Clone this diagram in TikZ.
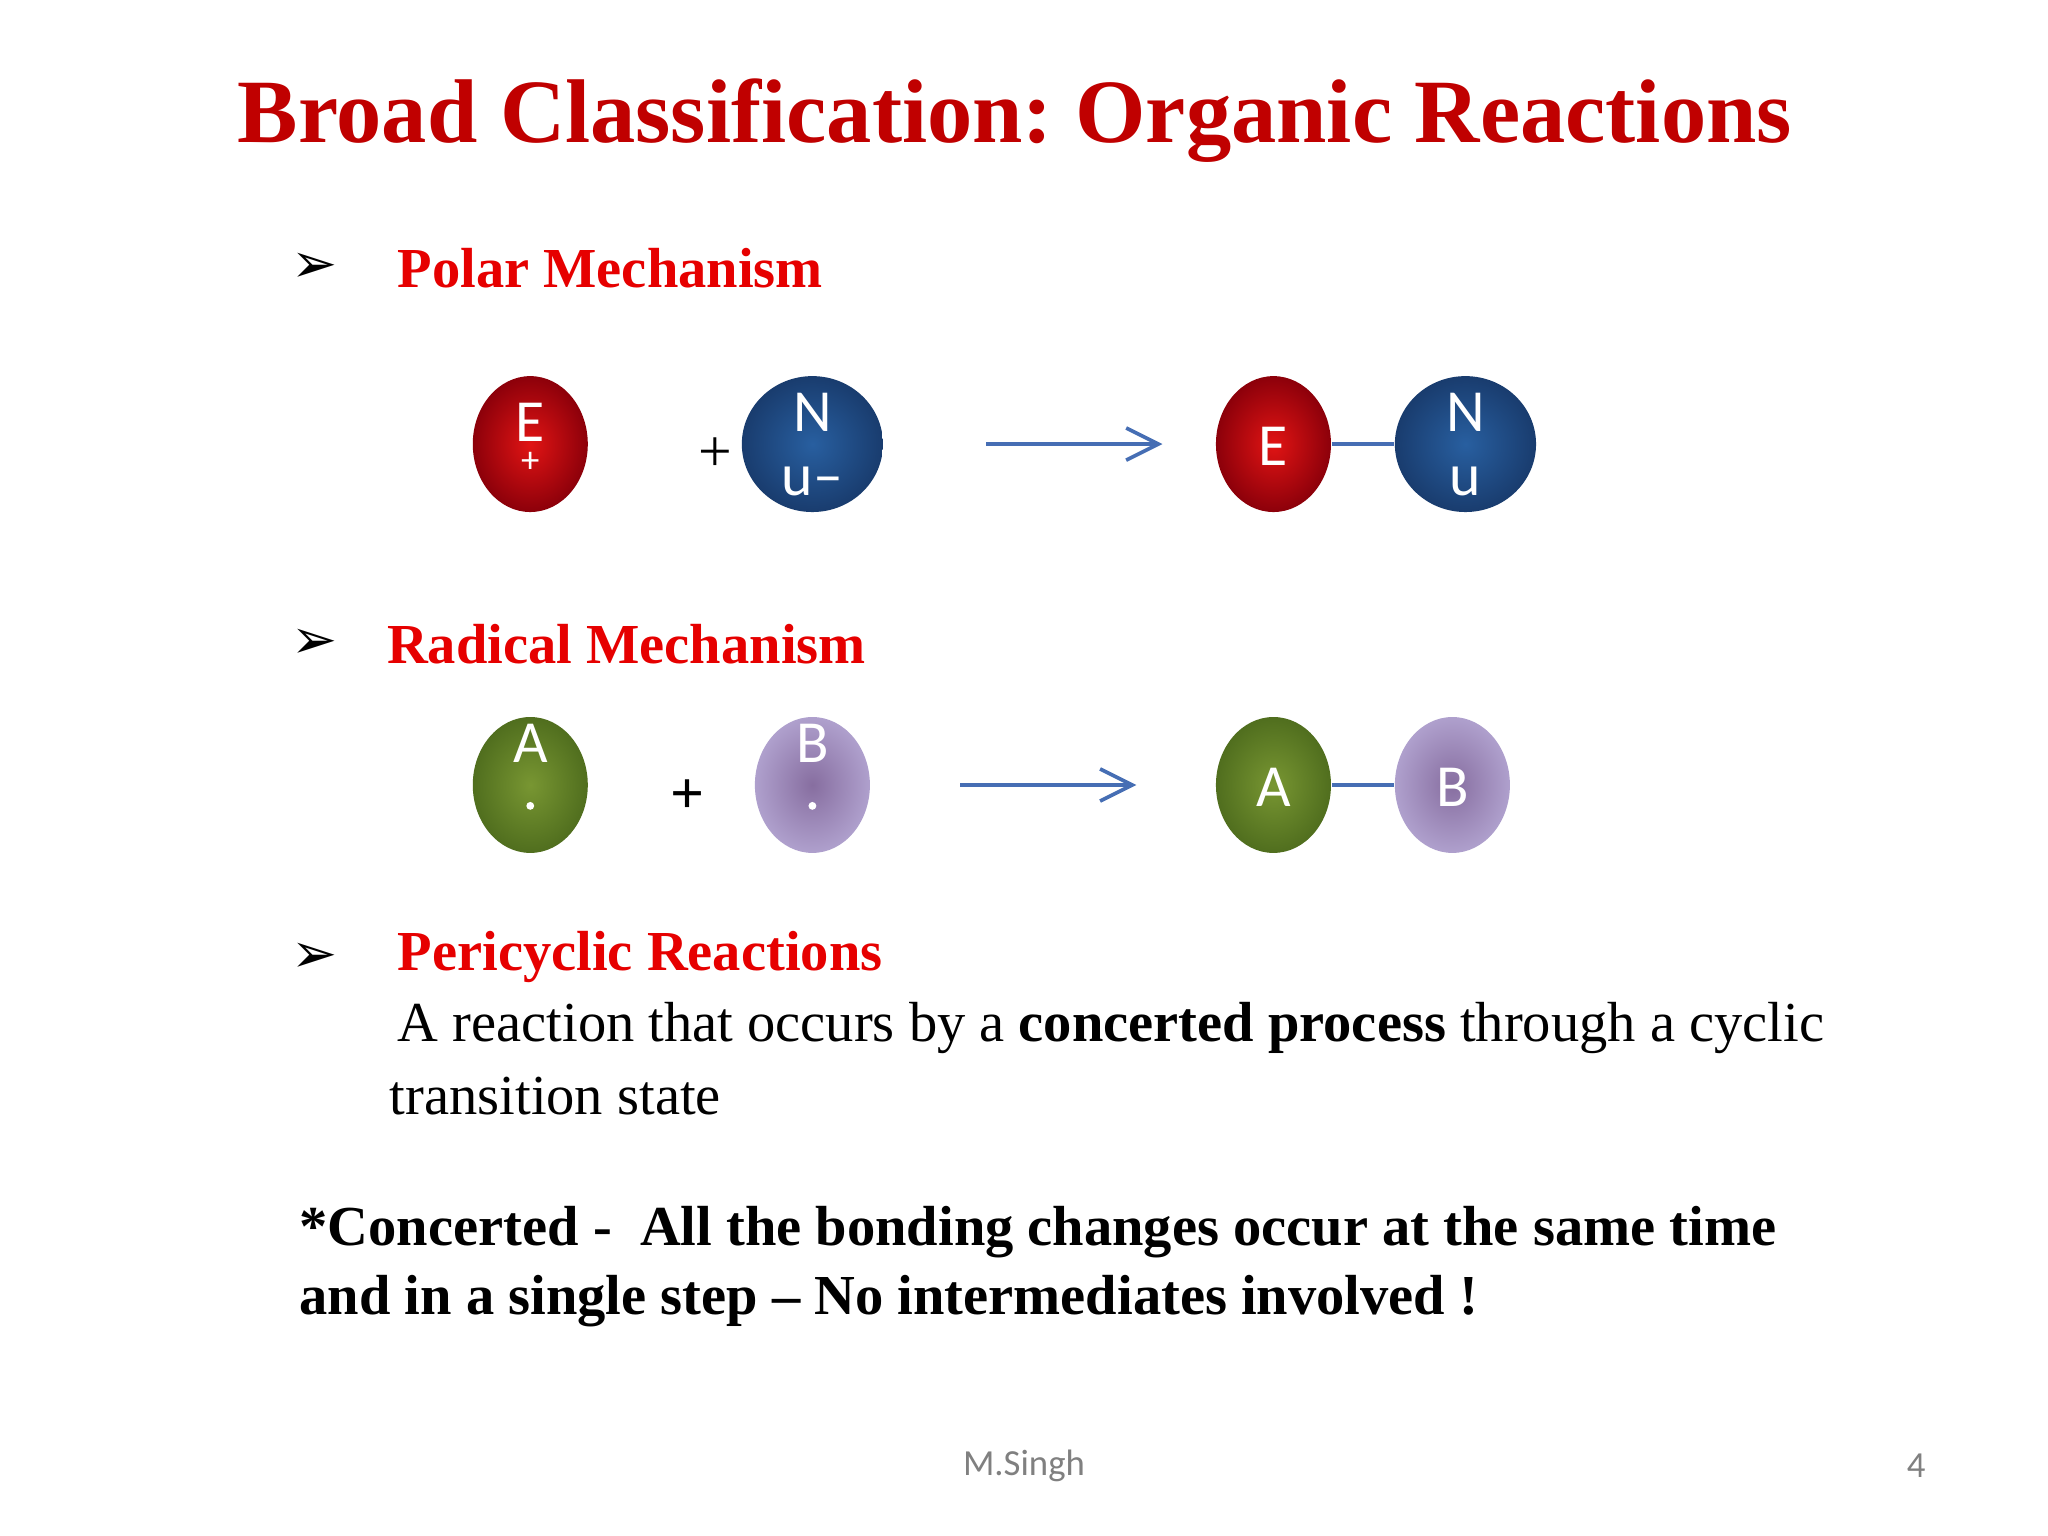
\documentclass[tikz,border=0pt]{standalone}
\usepackage{fontspec}
\setmainfont{Liberation Serif}
\newfontfamily\calfont{Carlito}
\newfontfamily\djfont{DejaVu Sans}
\usetikzlibrary{shapes.geometric,arrows.meta}
\definecolor{tred}{RGB}{192,0,0}
\definecolor{hred}{RGB}{230,0,0}
\definecolor{arr}{RGB}{70,110,180}
\frenchspacing
\tikzset{
 x=0.01cm,y=-0.01cm,
 ball/.style={ellipse,minimum width=#1*0.02cm,minimum height=1.04cm,inner sep=0pt},
 redb/.style={ball=44,shading=radial,inner color={rgb,255:red,225;green,20;blue,20},outer color={rgb,255:red,140;green,0;blue,10}},
 blueb/.style={ball=54,shading=radial,inner color={rgb,255:red,40;green,95;blue,160},outer color={rgb,255:red,25;green,60;blue,110}},
 greenb/.style={ball=44,shading=radial,inner color={rgb,255:red,120;green,150;blue,50},outer color={rgb,255:red,80;green,110;blue,30}},
 purpb/.style={ball=44,shading=radial,inner color={rgb,255:red,135;green,110;blue,160},outer color={rgb,255:red,175;green,160;blue,205}},
 lbl/.style={text=white,font=\calfont\fontsize{13}{13}\selectfont,align=center,inner sep=0pt},
 head/.style={anchor=west,text=hred,font=\bfseries\fontsize{12.3}{15}\selectfont},
 bul/.style={font=\djfont\fontsize{12}{12}\selectfont},
 body/.style={anchor=west,font=\fontsize{12.3}{15}\selectfont},
 rx/.style={-{Straight Barb[length=7pt,width=7pt]},arr,line width=0.8pt},
 bond/.style={arr,line width=0.7pt},
 dot/.style={circle,fill=white,inner sep=0pt,minimum size=0.06cm}
}
\begin{document}
\begin{tikzpicture}
\useasboundingbox[fill=white] (0,0) rectangle (1568,1176);
\node[text=tred,font=\bfseries\fontsize{19.7}{22}\selectfont] (title) at (777,92) {Broad Classification: Organic Reactions};
\node[bul] (b1) at (241,205) {➢};
\node[head] (h1) at (292,205) {Polar Mechanism};
\node[bul] (b2) at (241,493) {➢};
\node[head] (h2) at (284,493) {Radical Mechanism};
\node[bul] (b3) at (241,733) {➢};
\node[head] (h3) at (292,733) {Pericyclic Reactions};
% polar
\node[redb] (e1) at (406,340) {};
\node[lbl] at (406,323) {E};
\node[lbl,font=\calfont\fontsize{8}{8}\selectfont] at (406,354) {+};
\node[font=\fontsize{13}{13}\selectfont] (p1) at (548,348) {+};
\node[blueb] (n1) at (622,340) {};
\node[lbl] at (622,316) {N};
\node[lbl] at (622,369) {u–};
\coordinate (a1s) at (755,340); \coordinate (a1e) at (890,340);
\draw[rx] (a1s) -- (a1e);
\node[redb] (e2) at (975,340) {};
\node[blueb] (n2) at (1122,340) {};
\draw[bond] (e2.east) -- (n2.west);
\node[lbl] at (975,342) {E};
\node[lbl] at (1122,316) {N};
\node[lbl] at (1122,369) {u};
% radical
\node[greenb] (a1) at (406,601) {};
\node[lbl] at (406,569) {A};
\node[dot] (d1) at (406,617) {};
\node[font=\bfseries\fontsize{13}{13}\selectfont] (p2) at (526,610) {+};
\node[purpb] (bb1) at (622,601) {};
\node[lbl] at (622,569) {B};
\node[dot] (d2) at (622,617) {};
\coordinate (a2s) at (735,601); \coordinate (a2e) at (870,601);
\draw[rx] (a2s) -- (a2e);
\node[greenb] (a2) at (975,601) {};
\node[purpb] (bb2) at (1112,601) {};
\draw[bond] (a2.east) -- (bb2.west);
\node[lbl] at (975,603) {A};
\node[lbl] at (1112,603) {B};
% text
\node[body] (t1) at (292,787) {A reaction that occurs by a \textbf{concerted process} through a cyclic};
\node[body] (t2) at (286,839) {transition state};
\node[body,font=\bfseries\fontsize{12.3}{15}\selectfont] (c1) at (217,943) {*Concerted -\ \ All the bonding changes occur at the same time};
\node[body,font=\bfseries\fontsize{12.3}{15}\selectfont] (c2) at (217,996) {and in a single step – No intermediates involved !};
\node[text=gray,font=\calfont\fontsize{8}{8}\selectfont] (f1) at (784,1122) {M.Singh};
\node[text=gray,font=\calfont\fontsize{8}{8}\selectfont] (f2) at (1467,1122) {4};
\end{tikzpicture}
\end{document}
